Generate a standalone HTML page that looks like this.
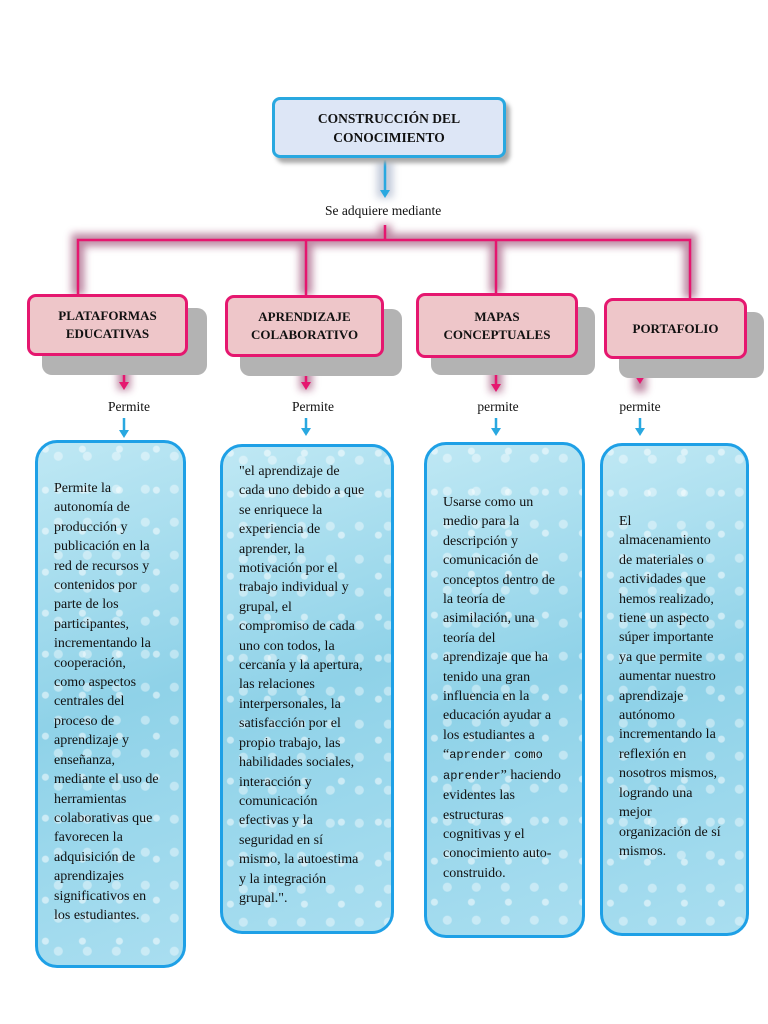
<!DOCTYPE html>
<html><head><meta charset="utf-8"><style>
html,body{margin:0;padding:0;background:#fff;}
body{width:768px;height:1024px;position:relative;overflow:hidden;font-family:"Liberation Serif",serif;color:#111;}
.abs{position:absolute;}
.top{left:272px;top:97px;width:228px;height:55px;border:3px solid #29a8e0;border-radius:8px;background:#dde6f6;box-shadow:4px 5px 4px #aaa;text-align:center;font-weight:bold;font-size:13.5px;line-height:19px;display:flex;align-items:center;justify-content:center;}
.sh{background:#b3b3b3;border-radius:10px;}
.pk{border:3px solid #e5176f;border-radius:9px;background:#eec6c9;text-align:center;font-weight:bold;font-size:13px;line-height:18px;display:flex;align-items:center;justify-content:center;box-sizing:border-box;}
.cb{border:3px solid #1ea0e6;border-radius:22px;box-sizing:border-box;background:
radial-gradient(circle at 20% 15%,rgba(255,255,255,.5) 0 3px,transparent 4px),
radial-gradient(circle at 70% 40%,rgba(255,255,255,.4) 0 4px,transparent 5px),
linear-gradient(160deg,#bfe8f4,#8fd2e8 50%,#a9def0);background-size:37px 41px,29px 33px,100% 100%;font-size:14px;line-height:19.4px;}
.lbl{font-size:13.5px;text-align:center;width:100px;}
</style></head><body>
<svg class="abs" style="left:0;top:0" width="768" height="1024">
<defs><filter id="bl" filterUnits="userSpaceOnUse" x="0" y="0" width="768" height="1024"><feGaussianBlur stdDeviation="4"/></filter></defs>
<g stroke="#8a2a5a" stroke-width="13" fill="none" opacity=".55" filter="url(#bl)">
<path d="M78 295V240H690V298"/><path d="M306 240V295M496 240V293M385 225V245"/>
<path d="M124 358V390M306 358V390M496 358V392M640 360V392"/>
</g>
<g stroke="#e5176f" stroke-width="2.5" fill="none">
<path d="M78 295V240H690V298"/><path d="M306 240V295M496 240V293M385 225V240"/>
<path d="M124 356V384M306 356V384M496 357V386M640 358V378"/>
</g>
<g fill="#e5176f"><path d="M119 382h10l-5 8z"/><path d="M301 382h10l-5 8z"/><path d="M491 384h10l-5 8z"/><path d="M635 376h10l-5 8z"/></g>
<rect x="377" y="160" width="16" height="38" fill="#8898b8" opacity=".5" filter="url(#bl)"/>
<g stroke="#29a8e0" stroke-width="2.5"><path d="M385 160V192M124 418V432M306 418V430M496 418V430M640 418V430"/></g>
<g fill="#29a8e0"><path d="M380 190h10l-5 8z"/><path d="M119 430h10l-5 8z"/><path d="M301 428h10l-5 8z"/><path d="M491 428h10l-5 8z"/><path d="M635 428h10l-5 8z"/></g>
</svg>
<div class="abs top">CONSTRUCCIÓN DEL<br>CONOCIMIENTO</div>
<div class="abs" style="left:325px;top:203px;font-size:13.5px;">Se adquiere mediante</div>

<div class="abs sh" style="left:42px;top:308px;width:165px;height:67px"></div>
<div class="abs sh" style="left:240px;top:309px;width:162px;height:67px"></div>
<div class="abs sh" style="left:431px;top:307px;width:164px;height:68px"></div>
<div class="abs sh" style="left:619px;top:312px;width:145px;height:66px"></div>
<div class="abs pk" style="left:27px;top:294px;width:161px;height:62px">PLATAFORMAS<br>EDUCATIVAS</div>
<div class="abs pk" style="left:225px;top:295px;width:159px;height:62px">APRENDIZAJE<br>COLABORATIVO</div>
<div class="abs pk" style="left:416px;top:293px;width:162px;height:65px">MAPAS<br>CONCEPTUALES</div>
<div class="abs pk" style="left:604px;top:298px;width:143px;height:61px">PORTAFOLIO</div>

<div class="abs lbl" style="left:79px;top:399px">Permite</div>
<div class="abs lbl" style="left:263px;top:399px">Permite</div>
<div class="abs lbl" style="left:448px;top:399px">permite</div>
<div class="abs lbl" style="left:590px;top:399px">permite</div>

<div class="abs cb" style="left:35px;top:440px;width:151px;height:528px;padding:36px 0 0 16px">Permite la<br>autonomía de<br>producción y<br>publicación en la<br>red de recursos y<br>contenidos por<br>parte de los<br>participantes,<br>incrementando la<br>cooperación,<br>como aspectos<br>centrales del<br>proceso de<br>aprendizaje y<br>enseñanza,<br>mediante el uso de<br>herramientas<br>colaborativas que<br>favorecen la<br>adquisición de<br>aprendizajes<br>significativos en<br>los estudiantes.</div>
<div class="abs cb" style="left:220px;top:444px;width:174px;height:490px;padding:15px 0 0 16px">"el aprendizaje de<br>cada uno debido a que<br>se enriquece la<br>experiencia de<br>aprender, la<br>motivación por el<br>trabajo individual y<br>grupal, el<br>compromiso de cada<br>uno con todos, la<br>cercanía y la apertura,<br>las relaciones<br>interpersonales, la<br>satisfacción por el<br>propio trabajo, las<br>habilidades sociales,<br>interacción y<br>comunicación<br>efectivas y la<br>seguridad en sí<br>mismo, la autoestima<br>y la integración<br>grupal.".</div>
<div class="abs cb" style="left:424px;top:442px;width:161px;height:496px;padding:48px 0 0 16px">Usarse como un<br>medio para la<br>descripción y<br>comunicación de<br>conceptos dentro de<br>la teoría de<br>asimilación, una<br>teoría del<br>aprendizaje que ha<br>tenido una gran<br>influencia en la<br>educación ayudar a<br>los estudiantes a<br>“<span style="font-family:'Liberation Mono',monospace;font-size:12px">aprender como<br>aprender</span>” haciendo<br>evidentes las<br>estructuras<br>cognitivas y el<br>conocimiento auto-<br>construido.</div>
<div class="abs cb" style="left:600px;top:443px;width:149px;height:493px;padding:66px 0 0 16px">El<br>almacenamiento<br>de materiales o<br>actividades que<br>hemos realizado,<br>tiene un aspecto<br>súper importante<br>ya que permite<br>aumentar nuestro<br>aprendizaje<br>autónomo<br>incrementando la<br>reflexión en<br>nosotros mismos,<br>logrando una<br>mejor<br>organización de sí<br>mismos.</div>
</body></html>
